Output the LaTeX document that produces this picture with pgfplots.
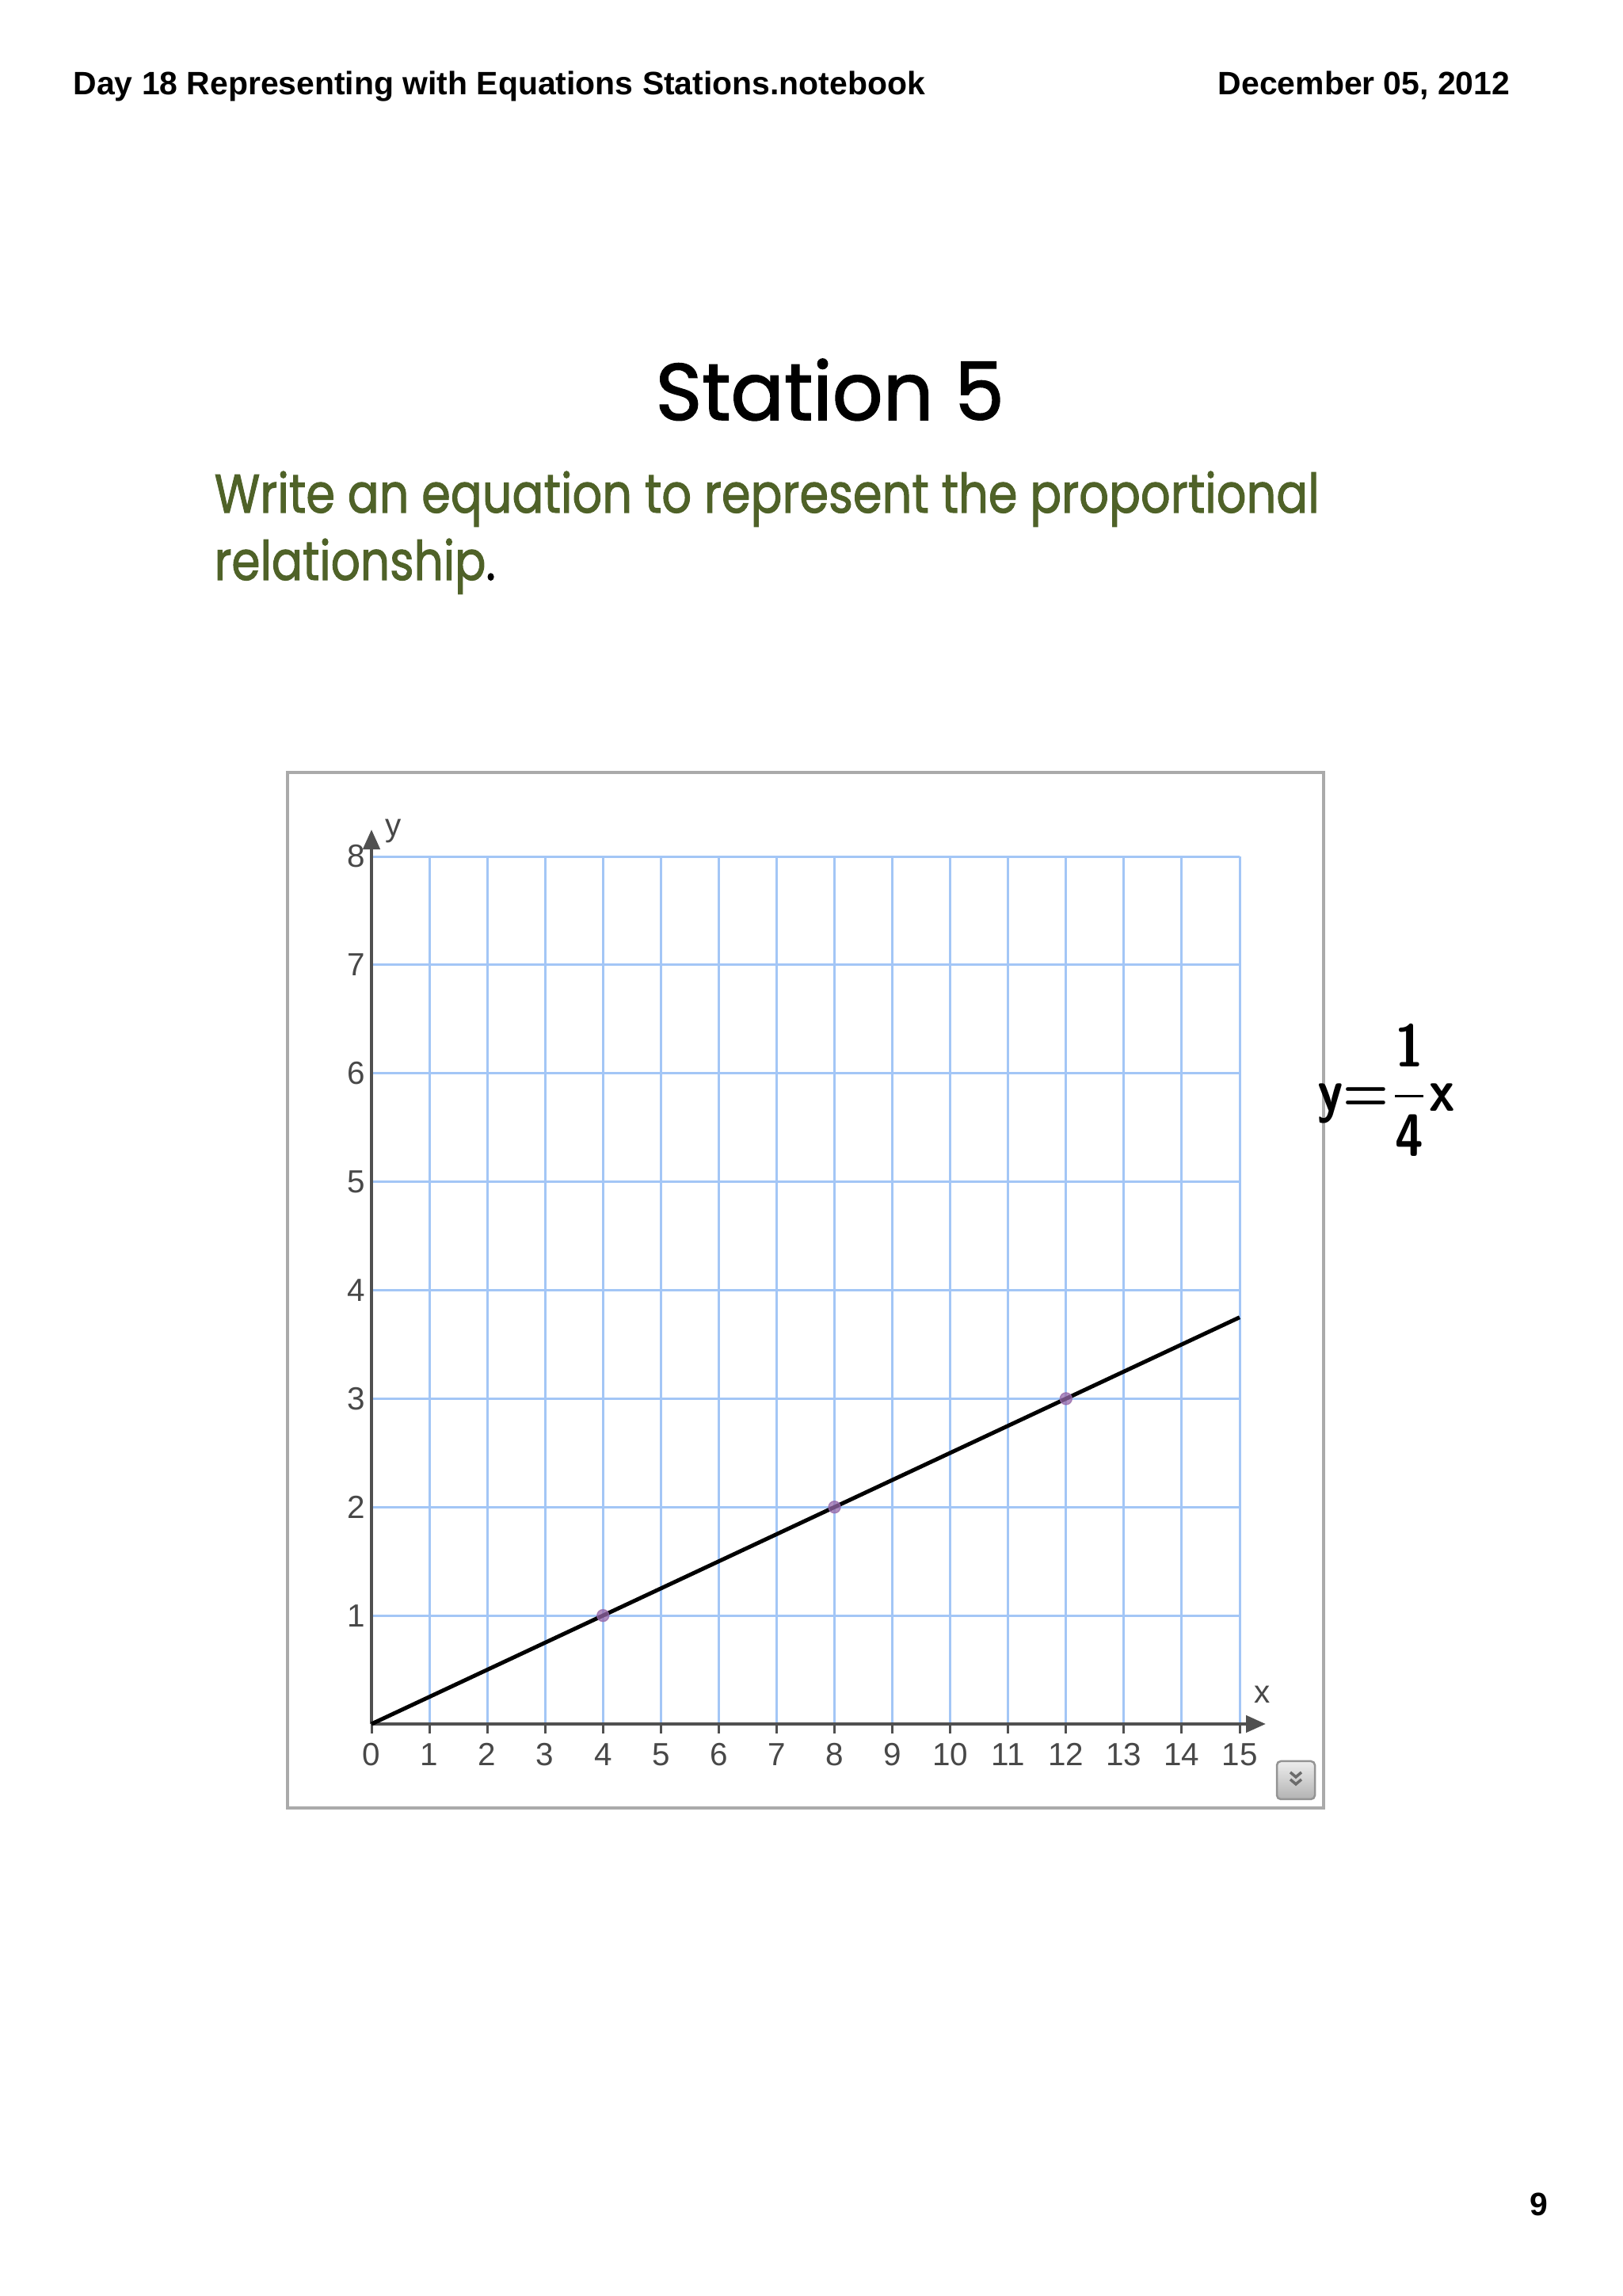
\documentclass[border=0pt]{standalone}
\usepackage{pgfplots}
\pgfplotsset{compat=1.18}
\usepackage{fontspec}
\usepackage{graphicx}
\usetikzlibrary{arrows.meta}
\setmainfont{Liberation Sans}
\newfontfamily\comic[FakeBold=1.6]{Poppins}
\definecolor{gridblue}{RGB}{163,198,246}
\definecolor{axisgray}{RGB}{80,80,80}
\definecolor{labgray}{RGB}{72,72,72}
\definecolor{framegray}{RGB}{170,170,170}
\definecolor{olivetxt}{RGB}{79,98,40}
\definecolor{ptpurple}{RGB}{150,105,170}
\begin{document}
\begin{tikzpicture}
\fill[white] (0,0) rectangle (204.8mm,289.8mm);
\path[use as bounding box] (0,0) rectangle (204.8mm,289.8mm);
% header
\node[anchor=base west, inner sep=0] at (9.2mm,277.8mm) {\bfseries\fontsize{11.64}{14}\selectfont Day 18 Representing with Equations Stations.notebook};
\node[anchor=base east, inner sep=0] at (190.7mm,277.8mm) {\bfseries\fontsize{11.64}{14}\selectfont December 05, 2012};
% title
\node[anchor=base west, inner sep=0] at (82.7mm,236.8mm) {\resizebox{44mm}{7.7mm}{\comic\fontsize{31}{36}\selectfont Station 5}};
\node[anchor=base west, inner sep=0, text=olivetxt] at (27.0mm,225.1mm) {\resizebox{139.5mm}{\height}{\comic\fontsize{19.5}{24}\selectfont Write an equation to represent the proportional}};
\node[anchor=base west, inner sep=0, text=olivetxt] at (27.0mm,216.6mm) {\resizebox{35.5mm}{\height}{\comic\fontsize{19.5}{24}\selectfont relationship\textcolor{black}{.}}};
% frame
\draw[framegray, line width=0.4mm] (36.3mm,192.3mm) rectangle (167.1mm,61.6mm);
% button
\shade[top color=white!93!black, bottom color=white!70!black, draw=white!58!black, line width=0.25mm, rounded corners=0.5mm] (161.2mm,67.5mm) rectangle (166.0mm,62.7mm);
\draw[white!42!black, line width=0.35mm] (162.9mm,66.1mm) -- (163.6mm,65.5mm) -- (164.3mm,66.1mm);
\draw[white!42!black, line width=0.35mm] (162.9mm,65.2mm) -- (163.6mm,64.6mm) -- (164.3mm,65.2mm);
\begin{axis}[
  at={(46.9mm,72.2mm)}, anchor=south west,
  width=109.6mm, height=109.5mm, scale only axis,
  xmin=0, xmax=15, ymin=0, ymax=8,
  axis lines=left,
  x axis line style={axisgray, line width=0.45mm, -{Triangle[length=2.5mm,width=2.1mm]}, shorten >=-3.3mm},
  y axis line style={axisgray, line width=0.45mm, -{Triangle[length=2.5mm,width=2.1mm]}, shorten >=-3.4mm},
  xtick={0,1,...,15}, ytick={1,2,...,8},
  grid=major,
  major grid style={gridblue, line width=0.3mm},
  tick align=outside,
  major tick length=1.2mm,
  xtick style={axisgray, line width=0.3mm},
  ytick style={draw=none},
  /pgf/number format/assume math mode=true,
  tick label style={font=\fontsize{11.5}{13}\selectfont, text=labgray},
  yticklabel style={xshift=1.6mm},
  xlabel={x}, ylabel={y},
  xlabel style={at={(axis description cs:1.0265,0.0338)}, anchor=center, font=\fontsize{11.5}{13}\selectfont, text=labgray},
  ylabel style={at={(axis description cs:0.0255,1.029)}, anchor=center, rotate=-90, font=\fontsize{11.5}{13}\selectfont, text=labgray},
  clip=false,
]
\addplot[only marks, mark=*, mark size=0.75mm, color=ptpurple, fill opacity=0.75, draw opacity=0.75] coordinates {(4,1) (8,2) (12,3)};
\addplot[black, line width=0.5mm] coordinates {(0,0) (15,3.75)};
\end{axis}
% handwritten answer
\node[inner sep=0] at (175.0mm,152.2mm) {\resizebox*{17.4mm}{16.8mm}{\boldmath$\displaystyle \mathsf{y}{=}\frac{\mathsf{1}}{\mathsf{4}}\mathsf{x}$}};
\node[anchor=base east, inner sep=0] at (195.5mm,10.1mm) {\bfseries\fontsize{11.64}{14}\selectfont 9};
\end{tikzpicture}
\end{document}
